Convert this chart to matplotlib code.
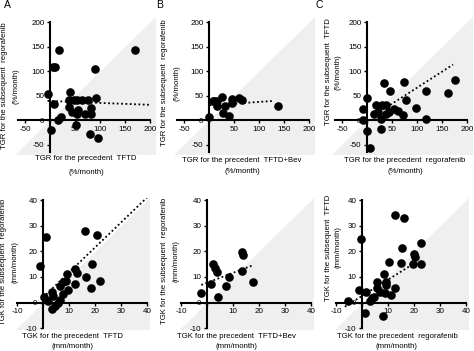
import matplotlib
matplotlib.use('Agg')
import matplotlib.pyplot as plt
import numpy as np

plt.rcParams['font.family'] = 'Liberation Sans'
plt.rcParams['font.size'] = 5.6

W, H = 474, 351

# ---- data ----
# top row: TGR (%/month)
a_tgr_x = [-5, 5, 9, 18, 7, 1, 15, 21, 39, 38, 47, 54, 38, 43, 56, 54, 63, 75, 70, 82, 82, 52, 79, 95, 90, 91, 169]
a_tgr_y = [54, 110, 110, 144, 33, -19, 2, 8, 58, 42, 42, 42, 28, 18, 21, 13, 42, 42, 13, 26, 13, -9, -28, -36, 106, 46, 144]
a_tgr_trend_x = [-5, 200]
a_tgr_trend_y = [40, 32]

b_tgr_x = [0, 10, 15, 15, 25, 28, 31, 39, 45, 45, 60, 65, 7, 138]
b_tgr_y = [8, 40, 30, 40, 47, 15, 30, 10, 43, 35, 45, 42, 39, 30]
b_tgr_trend_x = [1, 130]
b_tgr_trend_y = [31, 40]

c_tgr_x = [-9, -1, -9, 0, 5, 27, 13, 18, 22, 27, 33, 30, 38, 38, 43, 45, 53, 62, 72, 73, 78, 97, 117, 118, 163, 177]
c_tgr_y = [24, 46, 0, -21, -56, -17, 14, 31, 17, 3, 76, 31, 31, 14, 18, 61, 24, 20, 12, 78, 41, 25, 3, 61, 56, 82]
c_tgr_trend_x = [10, 172]
c_tgr_trend_y = [8, 114]

# bottom row: TGK (mm/month)
a_tgk_x = [-1, 1, 0.4, 2, 3.5, 3.9, 3.5, 4.5, 5.8, 6.5, 6.7, 7.5, 7.7, 8.8, 9.3, 9.7, 12.3, 12.3, 13, 16, 16.5, 18.3, 18.8, 20.6, 22]
a_tgk_y = [14.4, 25.5, 2.2, 0.6, 4.2, 2.6, -2.6, -1.3, 0, 0.9, 6.4, 8, 3.2, 8.3, 11, 5, 7.3, 13, 11.6, 28, 10, 5.7, 15, 26.5, 8.5]
a_tgk_trend_x = [0, 40]
a_tgk_trend_y = [2, 41]

b_tgk_x = [-2.2, 4.4, 1.5, 2.4, 3, 3.7, 7.4, 8.6, 13.6, 13.9, 13.3, 17.8]
b_tgk_y = [3.9, 2, 7.1, 14.9, 13.6, 12, 6.6, 9.8, 19.6, 18.7, 12.4, 7.9]
b_tgk_trend_x = [-2.2, 17.5]
b_tgk_trend_y = [6.9, 14.5]

c_tgk_x = [-5.5, -0.5, -1.3, 1, 1.7, 3.2, 4, 4.8, 5.7, 5.8, 7, 8, 8.5, 8.9, 9.1, 9.3, 10.4, 11.2, 12.7, 12.7, 14.9, 15.5, 16.3, 19.9, 20.3, 19.7, 22.6, 22.6]
c_tgk_y = [0.6, 24.8, 4.8, -4, 4.2, 0.8, 1.7, 2.3, 5.5, 8, 4.2, -5.3, 11.2, 3.9, 8, 7, 15.9, 2.9, 5.7, 34, 15.6, 21.3, 33.1, 18.8, 17.8, 15, 15.2, 23.2]
c_tgk_trend_x = [-6.6, 18]
c_tgk_trend_y = [-1.6, 14]

tgr_ticks = [-50, 0, 50, 100, 150, 200]
tgk_ticks = [-10, 0, 10, 20, 30, 40]

top_xlabels = ['TGR for the precedent  TFTD', 'TGR for the precedent  TFTD+Bev', 'TGR for the precedent  regorafenib']
top_ylabels = ['TGR for the subsequent  regorafenib', 'TGR for the subsequent  regorafenib', 'TGR for the subsequent  TFTD']
bot_xlabels = ['TGK for the precedent  TFTD', 'TGK for the precedent  TFTD+Bev', 'TGK for the precedent  regorafenib']
bot_ylabels = ['TGK for the subsequent  regorafenib', 'TGK for the subsequent  regorafenib', 'TGK for the subsequent  TFTD']
letters = ['A', 'B', 'C']


def fx(x):
    return x / W


def fy(y):
    return 1 - y / H


def make_axes(fig, left, top, right, bottom):
    return fig.add_axes([fx(left), fy(bottom), fx(right - left), (bottom - top) / H])


def style(ax, lim, bound, ticks):
    lo, hi = lim
    ax.set_xlim(lo, hi)
    ax.set_ylim(lo, hi)
    # light grey area below the identity line
    ax.fill([lo, hi, hi], [lo, lo, hi], color='#efefef', lw=0, zorder=0)
    for s in ['top', 'right']:
        ax.spines[s].set_visible(False)
    for s in ['left', 'bottom']:
        ax.spines[s].set_position(('data', 0))
        ax.spines[s].set_linewidth(1.5)
        ax.spines[s].set_bounds(bound[0], bound[1])
    ax.set_xticks(ticks)
    ax.set_xticklabels(['' if t == 0 else str(t) for t in ticks])
    ax.set_yticks(ticks)
    ax.set_yticklabels([str(t) for t in ticks])
    ax.tick_params(direction='out', length=2.5, width=1, pad=1.5, labelsize=5.8)
    ax.patch.set_visible(False)


def scatter(ax, x, y, tx, ty):
    ax.plot(x, y, 'o', color='black', ms=6.2, mew=0, zorder=3, clip_on=False)
    ax.plot(tx, ty, color='black', lw=1.3, ls=(0, (1, 1.4)), zorder=2)


fig = plt.figure(figsize=(W / 100, H / 100), dpi=100)

# top row (TGR)
top_axes_px = [(15, 16.6, 156, 154.8), (174, 16.6, 315, 154.8), (332, 16.6, 473, 154.8)]
top_data = [(a_tgr_x, a_tgr_y, a_tgr_trend_x, a_tgr_trend_y),
            (b_tgr_x, b_tgr_y, b_tgr_trend_x, b_tgr_trend_y),
            (c_tgr_x, c_tgr_y, c_tgr_trend_x, c_tgr_trend_y)]
top_xlab_pos = [(86, 159, 172), (242, 160, 171), (405, 160, 171)]
top_ylab_pos = [(5, 16, 86), (165, 177, 83), (328, 338, 72)]

for i in range(3):
    ax = make_axes(fig, *top_axes_px[i])
    style(ax, (-70, 212), (-65, 200), tgr_ticks)
    scatter(ax, *top_data[i])
    x, y1, y2 = top_xlab_pos[i]
    fig.text(fx(x), fy(y1), top_xlabels[i], ha='center', va='center', fontsize=5.6)
    fig.text(fx(x), fy(y2), '(%/month)', ha='center', va='center', fontsize=5.6)
    x1, x2, yc = top_ylab_pos[i]
    fig.text(fx(x1), fy(yc), top_ylabels[i], ha='center', va='center', rotation=90, fontsize=5.6)
    fig.text(fx(x2), fy(yc), '(%/month)', ha='center', va='center', rotation=90, fontsize=5.6)

# bottom row (TGK)
bot_axes_px = [(15.7, 197.5, 149.6, 329.5), (179.7, 197.5, 313.6, 329.5), (334.7, 197.5, 468.6, 329.5)]
bot_data = [(a_tgk_x, a_tgk_y, a_tgk_trend_x, a_tgk_trend_y),
            (b_tgk_x, b_tgk_y, b_tgk_trend_x, b_tgk_trend_y),
            (c_tgk_x, c_tgk_y, c_tgk_trend_x, c_tgk_trend_y)]
bot_xlab_pos = [(72, 336.5, 346.5), (236, 337, 346.8), (397, 336.5, 346.5)]
bot_ylab_pos = [(4, 15, 262), (165, 176.5, 261), (328, 338, 247.5)]

for i in range(3):
    ax = make_axes(fig, *bot_axes_px[i])
    style(ax, (-10.5, 41), (-10, 40), tgk_ticks)
    scatter(ax, *bot_data[i])
    x, y1, y2 = bot_xlab_pos[i]
    fig.text(fx(x), fy(y1), bot_xlabels[i], ha='center', va='center', fontsize=5.6)
    fig.text(fx(x), fy(y2), '(mm/month)', ha='center', va='center', fontsize=5.6)
    x1, x2, yc = bot_ylab_pos[i]
    fig.text(fx(x1), fy(yc), bot_ylabels[i], ha='center', va='center', rotation=90, fontsize=5.6)
    fig.text(fx(x2), fy(yc), '(mm/month)', ha='center', va='center', rotation=90, fontsize=5.6)

for (x, y), l in zip([(7.5, 4.5), (160, 4.5), (319.5, 4.5)], letters):
    fig.text(fx(x), fy(y), l, ha='center', va='center', fontsize=7.5)

fig.savefig('out.png', dpi=100)
